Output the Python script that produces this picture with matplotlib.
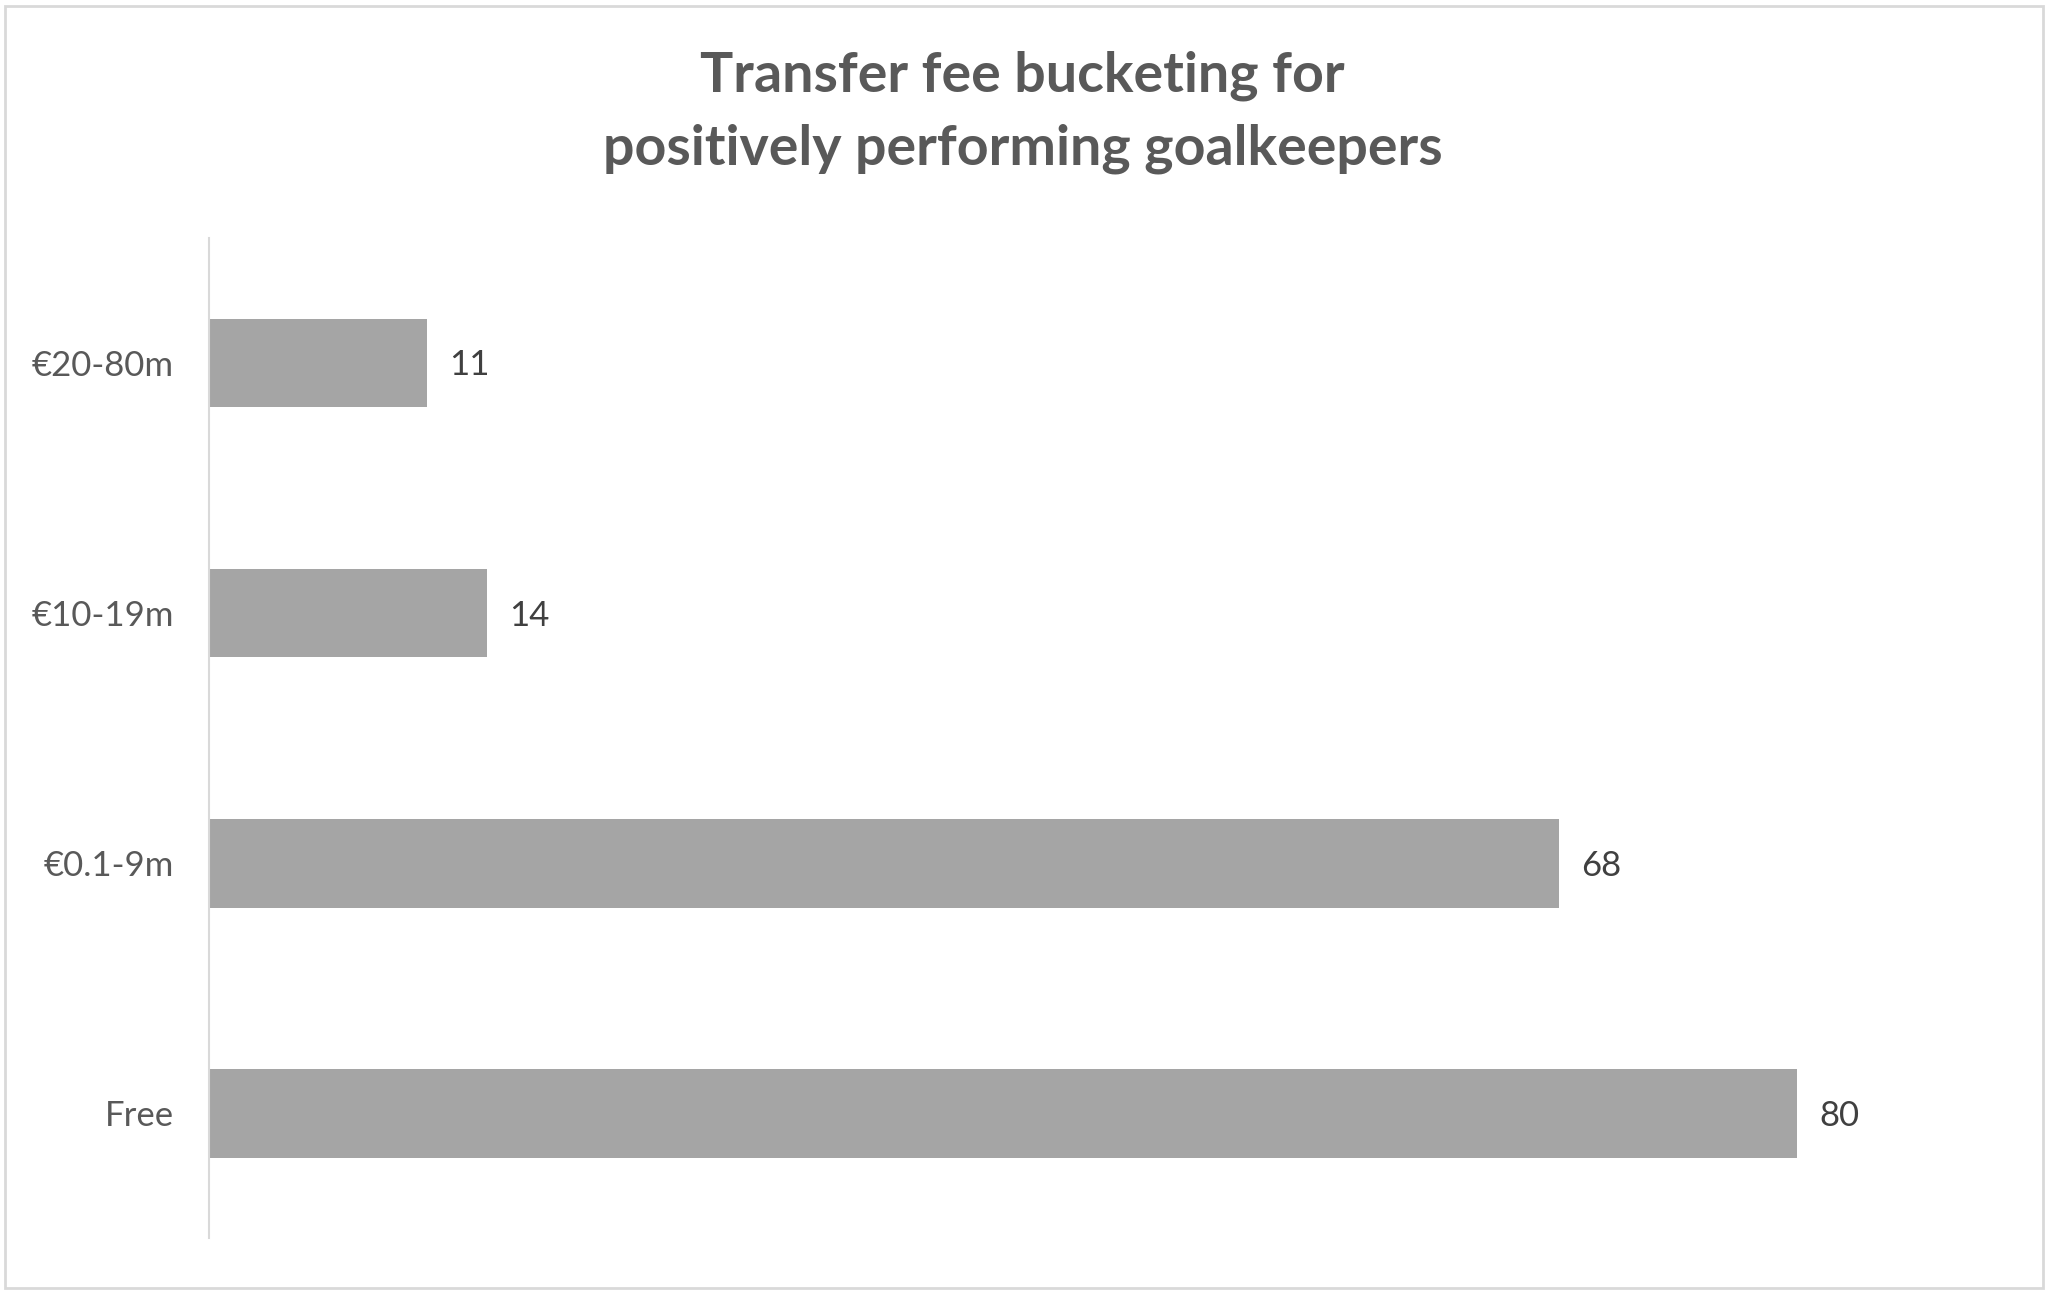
"""
Transfer fee bucketing — horizontal bar chart
"""
import matplotlib
matplotlib.use('Agg')
import matplotlib.pyplot as plt
from matplotlib.patches import Rectangle

# --- 数据 ---
CATEGORIES = ['Free', '€0.1-9m', '€10-19m', '€20-80m']
COUNTS = [80, 68, 14, 11]

TITLE_LINE1 = 'Transfer fee bucketing for'
TITLE_LINE2 = 'positively performing goalkeepers'

# --- 样式 ---
BAR_COLOR = '#a5a5a5'
TICK_COLOR = '#595959'
LABEL_COLOR = '#404040'
AXIS_COLOR = '#d9d9d9'

plt.rcParams['font.family'] = ['Lato', 'DejaVu Sans']


def main():
    fig = plt.figure(figsize=(20.48, 12.91), dpi=100)
    ax = fig.add_axes([0.102, 0.0407, 0.8726, 0.775])

    y = range(len(CATEGORIES))
    ax.barh(y, COUNTS, height=0.354, color=BAR_COLOR, left=0)

    for yi, v in zip(y, COUNTS):
        ax.text(v + 1.1, yi - 0.01, str(v), va='center', ha='left',
                fontsize=25, color=LABEL_COLOR)

    ax.set_xlim(0, 90)
    ax.set_ylim(-0.5, 3.5)
    ax.set_yticks(list(y))
    ax.set_yticklabels(CATEGORIES, fontsize=25, color=TICK_COLOR)
    ax.tick_params(axis='y', length=0, pad=25)
    ax.set_xticks([])

    for side in ['top', 'right', 'bottom']:
        ax.spines[side].set_visible(False)
    ax.spines['left'].set_color(AXIS_COLOR)
    ax.spines['left'].set_linewidth(1.5)

    # 标题
    fig.text(0.4994, 0.941, TITLE_LINE1, ha='center', va='center',
             fontsize=40, fontweight='bold', color=TICK_COLOR)
    fig.text(0.4994, 0.885, TITLE_LINE2, ha='center', va='center',
             fontsize=40, fontweight='bold', color=TICK_COLOR)

    # 外框
    fig.patches.append(Rectangle((0.0025, 0.0025), 0.995, 0.993,
                                 transform=fig.transFigure, fill=False,
                                 edgecolor=AXIS_COLOR, linewidth=2))

    fig.savefig('out.png', dpi=100)
    plt.close(fig)


if __name__ == '__main__':
    main()
